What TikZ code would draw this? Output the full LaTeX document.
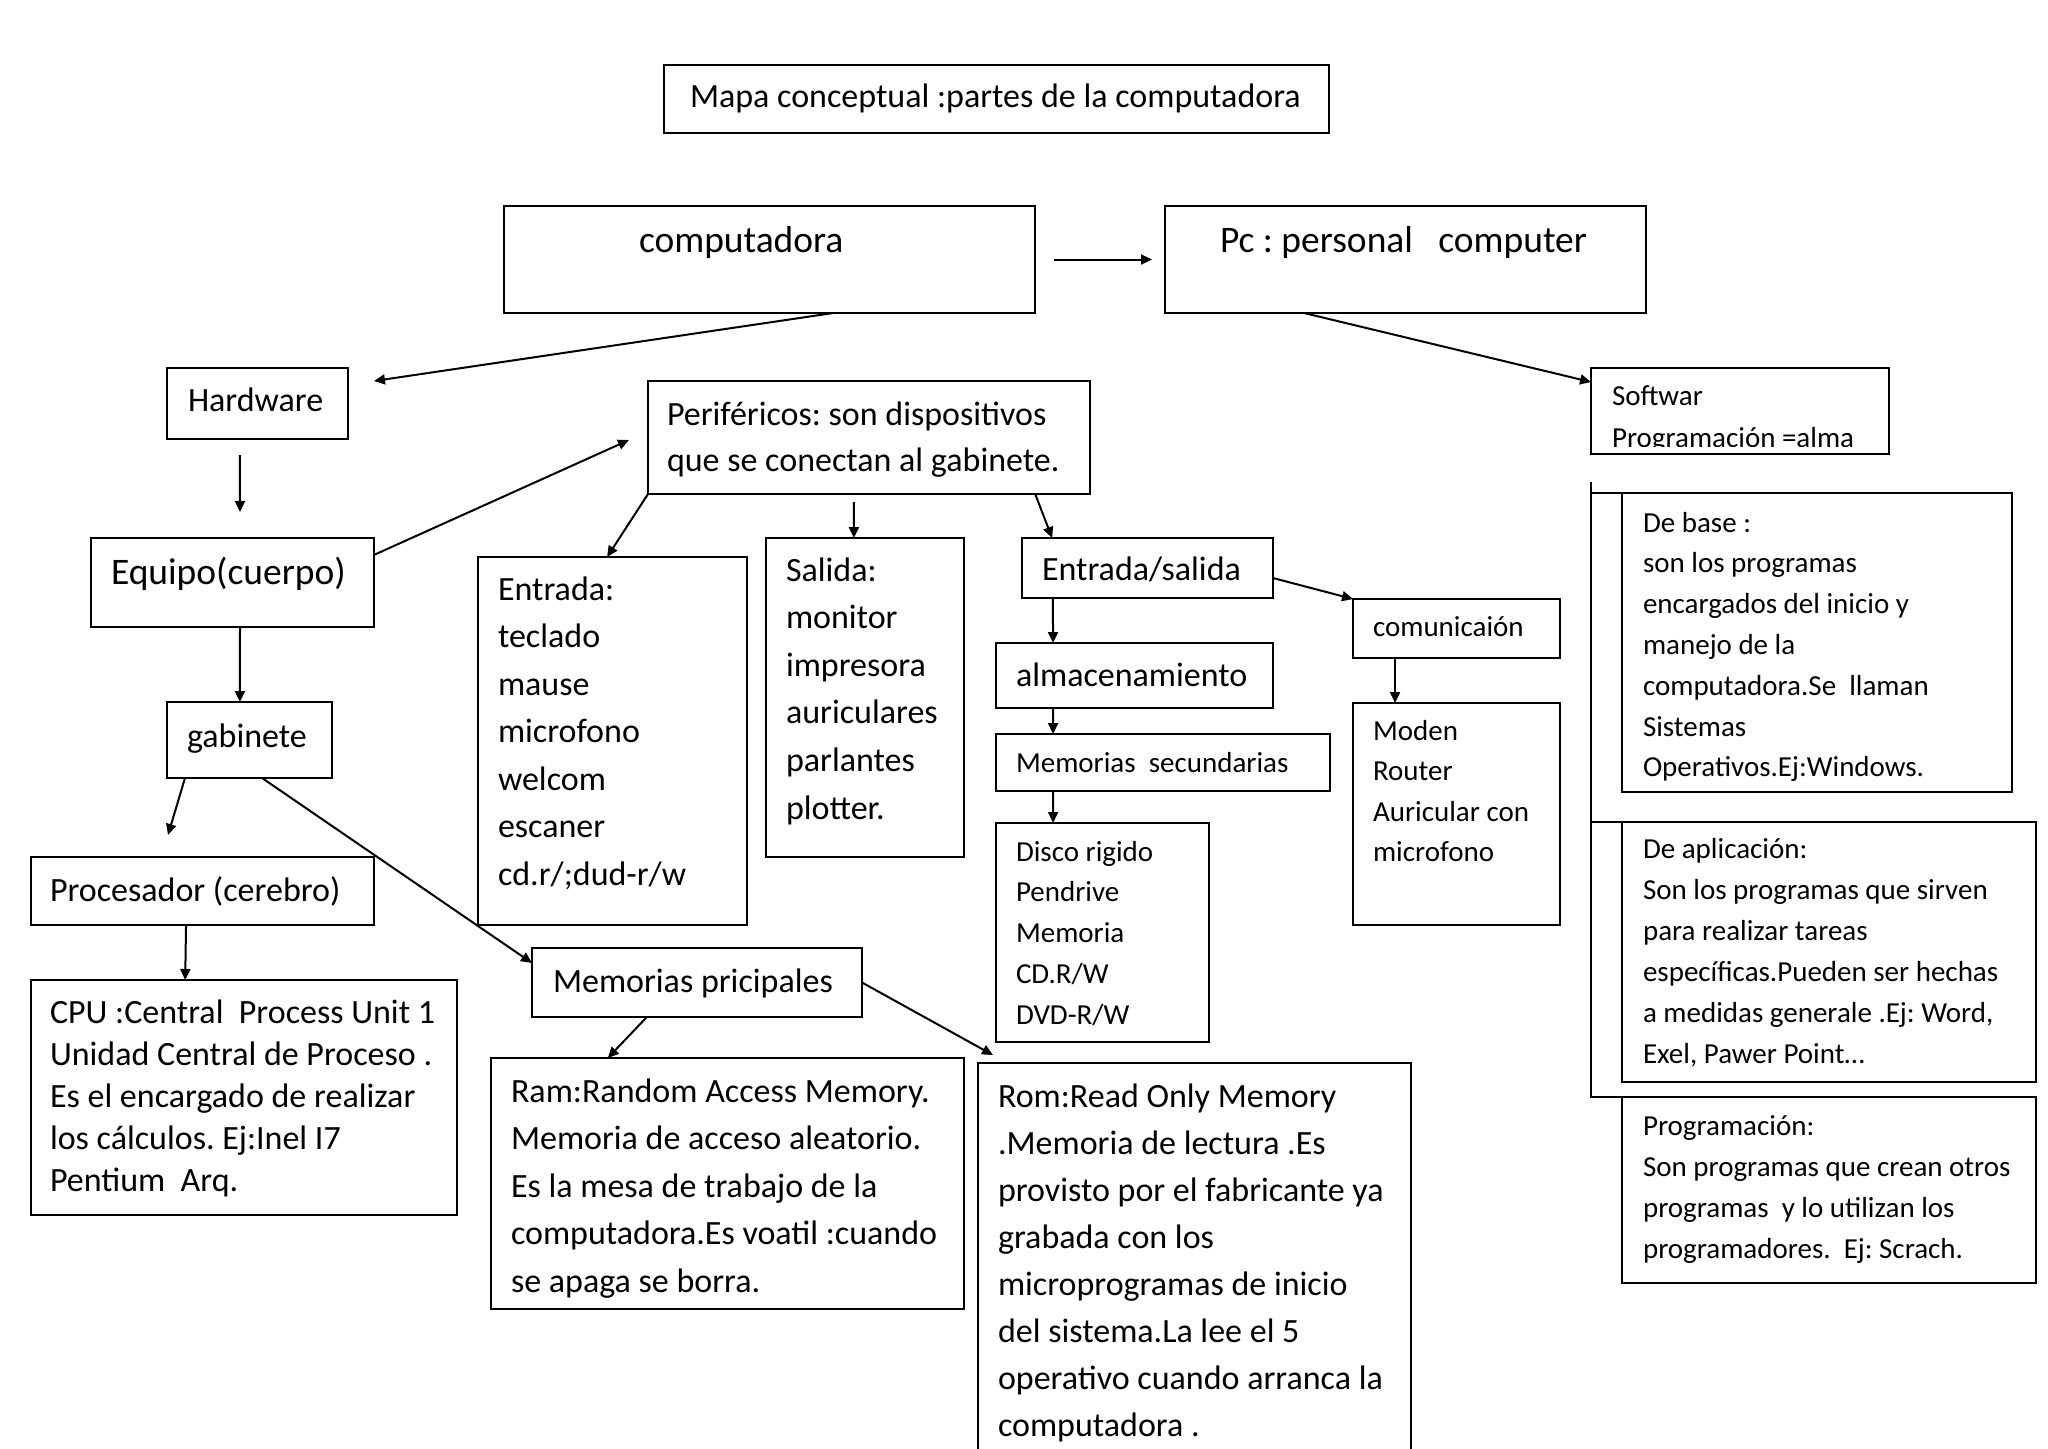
\documentclass[tikz,border=0pt]{standalone}
\usepackage{fontspec}
\setmainfont{Carlito}
\usetikzlibrary{arrows.meta,calc}
\frenchspacing
\newcommand{\mkbox}[5]{\node[box, minimum width={(#4-#2)*0.5}, minimum height={(#5-#3)*0.5}] (#1) at (#2,#3) {};}
\newcommand{\ns}{\spaceskip=0pt\xspaceskip=0pt\relax}
\begin{document}
\frenchspacing
\begin{tikzpicture}[x=0.5pt,y=-0.5pt,
  box/.style={draw=black, line width=1.2pt, inner sep=0pt, outer sep=0pt, anchor=north west},
  txt/.style={anchor=base west, inner sep=0pt, outer sep=0pt, text width=320pt, align=left, text=black},
  arr/.style={line width=1pt, -{Triangle[length=5.5pt,width=5pt]}},
  link/.style={line width=1.2pt},
  head/.style={font=\fontsize{18.75}{24}\selectfont},
  big/.style={font=\fontsize{17}{23.75}\selectfont},
  small/.style={font=\fontsize{14.5}{20.5}\selectfont}
]
\useasboundingbox (0,0) rectangle (2048,1448);
\fill[white] (0,0) rectangle (2048,1448);
\clip (0,0) rectangle (2048,1448);

% ---- boxes ----
\mkbox{title}{664}{65}{1329}{133}
\mkbox{comp}{504}{206}{1035}{313}
\mkbox{pc}{1165}{206}{1646}{313}
\mkbox{hw}{167}{368}{348}{439}
\mkbox{equipo}{91}{538}{374}{627}
\mkbox{perif}{648}{381}{1090}{494}
\mkbox{gab}{167}{702}{332}{778}
\mkbox{entrada}{478}{557}{747}{925}
\mkbox{salida}{766}{538}{964}{857}
\mkbox{es}{1022}{538}{1273}{598}
\mkbox{com}{1353}{599}{1560}{658}
\mkbox{alm}{996}{643}{1273}{708}
\mkbox{ms}{996}{734}{1330}{791}
\mkbox{disco}{996}{823}{1209}{1042}
\mkbox{moden}{1353}{703}{1560}{925}
\mkbox{proc}{31}{857}{374}{925}
\mkbox{cpu}{31}{980}{457}{1215}
\mkbox{mp}{532}{948}{862}{1017}
\mkbox{ram}{491}{1058}{964}{1309}
\mkbox{rom}{978}{1063}{1411}{1490}
\mkbox{soft}{1591}{368}{1889}{454}
\mkbox{debase}{1622}{493}{2012}{792}
\mkbox{deapl}{1622}{822}{2036}{1082}
\mkbox{prog}{1622}{1097}{2036}{1283}

% ---- texts ----
\node[txt,big] (title-t) at (690,107) {\ns Mapa conceptual :partes de la computadora};
\node[txt,head] (comp-t) at (639,252) {\ns computadora};
\node[txt,head] (pc-t) at (1220,252) {\ns Pc : personal~~ computer};
\node[txt,big] (hw-t) at (188,411) {\ns Hardware};
\node[txt,head] (equipo-t) at (111,584) {\ns Equipo(cuerpo)};
\node[txt,big,font=\fontsize{17}{23}\selectfont] (perif-t) at (667,425) {\ns Periféricos: son dispositivos\\que se conectan al gabinete.};
\node[txt,big] (gab-t) at (187,747) {\ns gabinete};
\node[txt,big] (entrada-t) at (498,600) {\ns Entrada:\\teclado\\mause\\microfono\\welcom\\escaner\\cd.r/;dud-r/w};
\node[txt,big,font=\fontsize{17}{23.8}\selectfont] (salida-t) at (786,581) {\ns Salida:\\monitor\\impresora\\auriculares\\parlantes\\plotter.};
\node[txt,big] (es-t) at (1042,580) {\ns Entrada/salida};
\node[txt,small] (com-t) at (1373,636) {\ns comunicaión};
\node[txt,big] (alm-t) at (1016,686) {\ns almacenamiento};
\node[txt,small] (ms-t) at (1016,772) {\ns Memorias~ secundarias};
\node[txt,small,font=\fontsize{14.5}{20.4}\selectfont] (disco-t) at (1016,861) {\ns Disco rigido\\Pendrive\\Memoria\\CD.R/W\\DVD-R/W};
\node[txt,small,font=\fontsize{14.5}{20.25}\selectfont] (moden-t) at (1373,740) {\ns Moden\\Router\\Auricular con\\microfono};
\node[txt,big] (proc-t) at (50,901) {\ns Procesador (cerebro)};
\node[txt,big,font=\fontsize{17}{21}\selectfont] (cpu-t) at (50,1023) {\ns CPU :Central~ Process Unit 1\\Unidad Central de Proceso .\\Es el encargado de realizar\\los cálculos. Ej:Inel I7\\Pentium~ Arq.};
\node[txt,big] (mp-t) at (553,992) {\ns Memorias pricipales};
\node[txt,big] (ram-t) at (511,1102) {\ns Ram:Random Access Memory.\\Memoria de acceso aleatorio.\\Es la mesa de trabajo de la\\computadora.Es voatil :cuando\\se apaga se borra.};
\node[txt,big,font=\fontsize{17}{23.5}\selectfont] (rom-t) at (998,1107) {\ns Rom:Read Only Memory\\.Memoria de lectura .Es\\provisto por el fabricante ya\\grabada con los\\microprogramas de inicio\\del sistema.La lee el 5\\operativo cuando arranca la\\computadora .};
\begin{scope}
  \clip (1591,368) rectangle (1889,446);
  \node[txt,small,font=\fontsize{14.5}{21}\selectfont] (soft-t) at (1612,405) {\ns Softwar\\Programación =alma};
\end{scope}
\node[txt,small,font=\fontsize{14.5}{20.4}\selectfont] (debase-t) at (1643,532) {\ns De base :\\son los programas\\encargados del inicio y\\manejo de la\\computadora.Se~ llaman\\Sistemas\\Operativos.Ej:Windows.};
\node[txt,small] (deapl-t) at (1643,858) {\ns De aplicación:\\Son los programas que sirven\\para realizar tareas\\específicas.Pueden ser hechas\\a medidas generale .Ej: Word,\\Exel, Pawer Point…};
\node[txt,small] (prog-t) at (1643,1135) {\ns Programación:\\Son programas que crean otros\\programas~ y lo utilizan los\\programadores.~ Ej: Scrach.};

% ---- free ends ----
\coordinate (hwtip) at (374,381);
\coordinate (ftip) at (629,440);
\coordinate (gtip) at (168,835);
\coordinate (stip) at (993,1055);
\coordinate (brk) at (1591,482);

% ---- connectors ----
\draw[arr] ($(comp.south west)!0.62!(comp.south east)$) -- (hwtip);
\draw[arr, shorten <=9.5pt, shorten >=6.5pt] (comp.east) -- (pc.west);
\draw[arr] ($(pc.south west)!0.289!(pc.south east)$) -- ($(soft.north west)!0.163!(soft.south west)$);
\draw[arr, shorten <=8pt, shorten >=13pt] ($(hw.south west)!0.403!(hw.south east)$) -- ($(equipo.north west)!0.5265!(equipo.north east)$);
\draw[arr] ($(equipo.south west)!0.5265!(equipo.south east)$) -- ($(gab.north west)!0.442!(gab.north east)$);
\draw[arr] ($(equipo.north east)!0.19!(equipo.south east)$) -- (ftip);
\draw[arr] ($(gab.south west)!0.109!(gab.south east)$) -- (gtip);
\draw[arr] ($(gab.south west)!0.576!(gab.south east)$) -- ($(mp.north west)!0.217!(mp.south west)$);
\draw[arr] ($(proc.south west)!0.452!(proc.south east)$) -- ($(cpu.north west)!0.362!(cpu.north east)$);
\draw[arr] (perif.south west) -- ($(entrada.north west)!0.48!(entrada.north east)$);
\draw[arr, shorten <=4pt] ($(perif.south west)!0.466!(perif.south east)$) -- ($(salida.north west)!0.444!(salida.north east)$);
\draw[arr] ($(perif.south west)!0.876!(perif.south east)$) -- ($(es.north west)!0.12!(es.north east)$);
\draw[arr] ($(es.north east)!0.667!(es.south east)$) -- (com.north west);
\draw[arr] ($(com.south west)!0.203!(com.south east)$) -- ($(moden.north west)!0.203!(moden.north east)$);
\draw[arr] ($(es.south west)!0.123!(es.south east)$) -- ($(alm.north west)!0.206!(alm.north east)$);
\draw[arr] ($(alm.south west)!0.206!(alm.south east)$) -- ($(ms.north west)!0.171!(ms.north east)$);
\draw[arr] ($(ms.south west)!0.171!(ms.south east)$) -- ($(disco.north west)!0.268!(disco.north east)$);
\draw[arr] ($(mp.south west)!0.348!(mp.south east)$) -- ($(ram.north west)!0.247!(ram.north east)$);
\draw[arr] (mp.east) -- (stip);

% ---- software bracket ----
\draw[link] (brk) |- (debase.north west);
\draw[link] (brk) |- (prog.north west);
\draw[link] (deapl.north west -| brk) -- (deapl.north west);
\end{tikzpicture}
\end{document}
